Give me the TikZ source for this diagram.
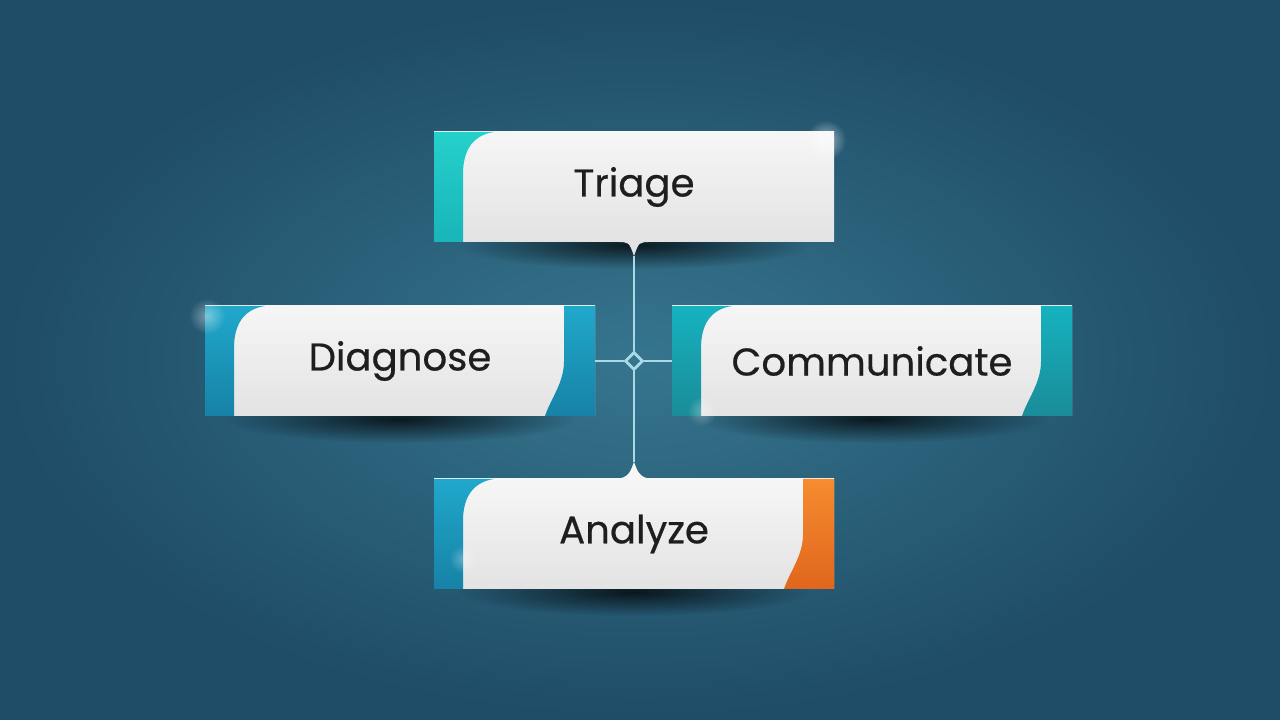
\documentclass[tikz,border=0pt]{standalone}
\usepackage{fontspec}
\setmainfont{Poppins}[FakeBold=0.5]
\usetikzlibrary{
  positioning,
  shapes.geometric,
  fadings,
  backgrounds
}

\definecolor{bgInner}{HTML}{36758E}
\definecolor{bgOuter}{HTML}{1F4C66}
\definecolor{boxTop}{HTML}{F6F6F6}
\definecolor{boxBottom}{HTML}{E3E3E3}
\definecolor{boxText}{HTML}{1E1E1E}
\definecolor{lineBlue}{HTML}{A9D9E6}
\definecolor{tealA}{HTML}{25D0CB}
\definecolor{tealB}{HTML}{19B5B9}
\definecolor{blueA}{HTML}{20A8CB}
\definecolor{blueB}{HTML}{1682A6}
\definecolor{cyanA}{HTML}{16B2C0}
\definecolor{cyanB}{HTML}{1A8C98}
\definecolor{orangeA}{HTML}{F68C30}
\definecolor{orangeB}{HTML}{E0661C}

\tikzfading[name=softfade, inner color=transparent!0, outer color=transparent!100]

\begin{document}
\begin{tikzpicture}[
    auto,node distance=2cm,
    stepBox/.style={minimum height=1.1cm,inner sep=0pt,outer sep=0pt,
      top color=boxTop,bottom color=boxBottom,text=boxText,
      font=\fontsize{11}{13}\selectfont},
    hubNode/.style={diamond,draw=lineBlue,fill=bgInner,line width=0.8pt,minimum size=0.18cm,inner sep=0pt},
    link/.style={draw=lineBlue,line width=0.8pt},
    shadowBlob/.style={fill=black,opacity=0.75,path fading=softfade},
    glowSpot/.style={fill=white,opacity=0.55,path fading=softfade}
  ]
    \useasboundingbox (0,0) rectangle (12.8,7.2);

    % hub and steps
    \node[hubNode] (hub) at (6.34,3.59) {};
    \node[stepBox,minimum width=4cm,node distance=1.74cm,above of=hub] (triage) {Triage};
    \node[stepBox,minimum width=3.9cm,node distance=2.34cm,left of=hub] (diagnose) {Diagnose};
    \node[stepBox,minimum width=4cm,node distance=2.38cm,right of=hub] (communicate) {Communicate};
    \node[stepBox,minimum width=4cm,node distance=1.73cm,below of=hub] (analyze) {Analyze};

    % left and right accents
    \foreach \n/\ca/\cb in {triage/tealA/tealB,diagnose/blueA/blueB,communicate/cyanA/cyanB,analyze/blueA/blueB}
      \shade[top color=\ca,bottom color=\cb] (\n.south west) -- (\n.north west) -- ++(0.6,0)
        .. controls +(-0.2,-0.03) and +(0,0.25) .. ++(-0.31,-0.42) -- ([xshift=0.29cm]\n.south west) -- cycle;
    \foreach \n/\ca/\cb in {diagnose/blueA/blueB,communicate/cyanA/cyanB,analyze/orangeA/orangeB}
      \shade[top color=\ca,bottom color=\cb] (\n.south east) -- (\n.north east) -- ++(-0.31,0) -- ++(0,-0.55)
        .. controls +(0,-0.22) and +(0.06,0.18) .. ++(-0.19,-0.55) -- cycle;

    % pointers
    \fill[boxBottom] ([xshift=-0.17cm]triage.south) .. controls ([xshift=-0.05cm]triage.south) .. ([yshift=-0.14cm]triage.south)
      .. controls ([xshift=0.05cm]triage.south) .. ([xshift=0.17cm]triage.south) -- cycle;
    \coordinate (triageTip) at ([yshift=-0.14cm]triage.south);
    \fill[boxTop] ([xshift=-0.2cm]analyze.north) .. controls ([xshift=-0.04cm]analyze.north) and ([xshift=-0.03cm,yshift=0.1cm]analyze.north) .. ([yshift=0.17cm]analyze.north)
      .. controls ([xshift=0.03cm,yshift=0.1cm]analyze.north) and ([xshift=0.04cm]analyze.north) .. ([xshift=0.2cm]analyze.north) -- cycle;
    \coordinate (analyzeTip) at ([yshift=0.17cm]analyze.north);

    % connectors
    \draw[link] (triageTip) -- (hub.north);
    \draw[link] (hub.south) -- (analyzeTip);
    \draw[link] (diagnose.east) -- (hub.west);
    \draw[link] (hub.east) -- (communicate.west);

    % glows
    \fill[glowSpot] ([xshift=-0.08cm,yshift=-0.08cm]triage.north east) circle (0.2cm);
    \fill[glowSpot,opacity=0.4] ([xshift=0.02cm,yshift=-0.1cm]diagnose.north west) circle (0.18cm);
    \fill[glowSpot,opacity=0.3] ([xshift=0.3cm,yshift=0.05cm]communicate.south west) circle (0.15cm);
    \fill[glowSpot,opacity=0.3] ([xshift=0.29cm,yshift=0.3cm]analyze.south west) circle (0.14cm);

    \begin{scope}[on background layer]
      \shade[inner color=bgInner,outer color=bgOuter] (0,0) rectangle (12.8,7.2);
      \foreach \n in {triage,diagnose,communicate,analyze}
        \fill[shadowBlob] ([yshift=-0.03cm]\n.south) ellipse (1.75cm and 0.24cm);
    \end{scope}
  \end{tikzpicture}
\end{document}
